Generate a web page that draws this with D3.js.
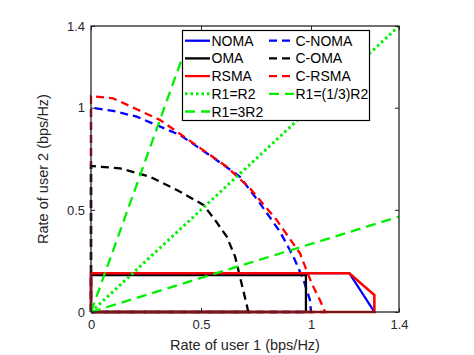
<!DOCTYPE html>
<html>
<head>
<meta charset="utf-8">
<script src="https://cdn.jsdelivr.net/npm/d3@7"></script>
<style>
  html, body { margin: 0; padding: 0; background: #fff; }
  svg { display: block; font-family: "Liberation Sans", Arial, Helvetica, sans-serif; }
</style>
</head>
<body>
<svg id="chart" width="474" height="355"></svg>
<script>
// ---------- data ----------
const xTicks = [0, 0.5, 1, 1.4];
const yTicks = [0, 0.5, 1, 1.4];
const xLabel = "Rate of user 1 (bps/Hz)";
const yLabel = "Rate of user 2 (bps/Hz)";

// achievable regions (R1, R2)
const nomaR1 = [0, 0, 1.174, 1.288, 0];
const nomaR2 = [0, 0.19, 0.19, 0, 0];
const omaR1  = [0, 0, 0.977, 0.977, 0];
const omaR2  = [0, 0.181, 0.181, 0, 0];
const rsmaR1 = [0, 0, 1.174, 1.288, 1.288, 0];
const rsmaR2 = [0, 0.19, 0.19, 0.083, 0, 0];

// capacity regions (R1, R2)
const cNomaR1 = [0, 0, 0.1, 0.208, 0.405, 0.55, 0.677, 0.768, 0.859, 0.92, 0.965, 0.995, 1.0, 0];
const cNomaR2 = [0, 1.0, 0.985, 0.956, 0.866, 0.76, 0.662, 0.532, 0.393, 0.271, 0.16, 0.06, 0, 0];
const cOmaR1  = [0, 0, 0.132, 0.268, 0.405, 0.511, 0.564, 0.617, 0.655, 0.677, 0.708, 0.715, 0];
const cOmaR2  = [0, 0.715, 0.703, 0.662, 0.589, 0.524, 0.45, 0.369, 0.271, 0.173, 0.034, 0, 0];
const cRsmaR1 = [0, 0, 0.1, 0.314, 0.5, 0.617, 0.723, 0.844, 0.95, 1.003, 1.04, 1.064, 0];
const cRsmaR2 = [0, 1.057, 1.046, 0.94, 0.8, 0.711, 0.605, 0.45, 0.287, 0.14, 0.06, 0, 0];

// reference rays R2 = k * R1
const rayNames = ["R1=R2", "R1=(1/3)R2", "R1=3R2"];
const raySlopes = [1, 3, 1 / 3];

// ---------- layout ----------
const svg = d3.select("#chart");
const M = { left: 91, top: 26, right: 399, bottom: 312 };
const x = d3.scaleLinear().domain([0, 1.4]).range([M.left, M.right]);
const y = d3.scaleLinear().domain([0, 1.4]).range([M.bottom, M.top]);

const zip = (a, b) => a.map((v, i) => [v, b[i]]);
const line = d3.line().x(d => x(d[0])).y(d => y(d[1]));

const BLUE = "#0000ff", RED = "#ff0000", BLACK = "#000000", GREEN = "#00f000";
const DASH = "8,5", GDASH = "10,6", DOT = "2.5,3";

svg.append("defs").append("clipPath").attr("id", "clip")
  .append("rect").attr("x", M.left - 3).attr("y", M.top).attr("width", M.right - M.left + 3).attr("height", M.bottom - M.top + 3);

const g = svg.append("g").attr("clip-path", "url(#clip)");

const series = [
  { name: "C-NOMA", pts: zip(cNomaR1, cNomaR2), color: BLUE, dash: DASH, w: 2.3 },
  { name: "C-RSMA", pts: zip(cRsmaR1, cRsmaR2), color: RED, dash: DASH, w: 2.3 },
  { name: "C-OMA",  pts: zip(cOmaR1, cOmaR2),  color: BLACK, dash: DASH, w: 2.3 },
  { name: "OMA",    pts: zip(omaR1, omaR2),    color: BLACK, dash: null, w: 2.3 },
  { name: "NOMA",   pts: zip(nomaR1, nomaR2),  color: BLUE, dash: null, w: 2.2 },
  { name: "RSMA",   pts: zip(rsmaR1, rsmaR2),  color: RED, dash: null, w: 2.6 }
];
series.forEach(s => {
  g.append("path").attr("d", line(s.pts)).attr("fill", "none")
    .attr("stroke", s.color).attr("stroke-width", s.w)
    .attr("stroke-dasharray", s.dash).attr("stroke-linejoin", "miter");
});

const rayStyles = [DOT, GDASH, GDASH];
raySlopes.forEach((k, i) => {
  const r1End = k <= 1 ? 1.4 : 1.4 / k;
  g.append("path").attr("d", line([[0, 0], [r1End, r1End * k]]))
    .attr("fill", "none").attr("stroke", GREEN)
    .attr("stroke-width", i === 0 ? 3 : 2.3)
    .attr("stroke-dasharray", rayStyles[i]);
});

// ---------- axes ----------
const axColor = "#262626";
const fmt = d => d3.format("")(d);
function styleAxis(sel, hideText) {
  sel.select(".domain").remove();
  sel.selectAll("line").attr("stroke", axColor);
  sel.selectAll("text").attr("fill", axColor).style("font-size", "13px");
  if (hideText) sel.selectAll("text").remove();
}
svg.append("g").attr("transform", `translate(0,${M.bottom})`)
  .call(d3.axisBottom(x).tickValues(xTicks).tickFormat(fmt).tickSizeInner(-4).tickSizeOuter(0).tickPadding(8))
  .call(s => styleAxis(s, false)).attr("font-family", null);
svg.append("g").attr("transform", `translate(0,${M.top})`)
  .call(d3.axisTop(x).tickValues(xTicks).tickSizeInner(-4).tickSizeOuter(0))
  .call(s => styleAxis(s, true));
svg.append("g").attr("transform", `translate(${M.left},0)`)
  .call(d3.axisLeft(y).tickValues(yTicks).tickFormat(fmt).tickSizeInner(-4).tickSizeOuter(0).tickPadding(6))
  .call(s => styleAxis(s, false)).attr("font-family", null);
svg.append("g").attr("transform", `translate(${M.right},0)`)
  .call(d3.axisRight(y).tickValues(yTicks).tickSizeInner(-4).tickSizeOuter(0))
  .call(s => styleAxis(s, true));

svg.append("rect").attr("x", M.left).attr("y", M.top)
  .attr("width", M.right - M.left).attr("height", M.bottom - M.top)
  .attr("fill", "none").attr("stroke", axColor).attr("stroke-width", 1.3);

svg.append("text").attr("x", (M.left + M.right) / 2).attr("y", 350)
  .attr("text-anchor", "middle").attr("fill", axColor).style("font-size", "14.5px").text(xLabel);
svg.append("text").attr("transform", `translate(48,${(M.top + M.bottom) / 2}) rotate(-90)`)
  .attr("text-anchor", "middle").attr("fill", axColor).style("font-size", "14.5px").text(yLabel);

// ---------- legend ----------
const legendItems = [
  { name: "NOMA", color: BLUE, dash: null },
  { name: "C-NOMA", color: BLUE, dash: DASH },
  { name: "OMA", color: BLACK, dash: null },
  { name: "C-OMA", color: BLACK, dash: DASH },
  { name: "RSMA", color: RED, dash: null },
  { name: "C-RSMA", color: RED, dash: DASH },
  { name: rayNames[0], color: GREEN, dash: DOT, w: 3 },
  { name: rayNames[1], color: GREEN, dash: GDASH },
  { name: rayNames[2], color: GREEN, dash: GDASH }
];
const lg = svg.append("g");
lg.append("rect").attr("x", 182.5).attr("y", 30.5).attr("width", 187).attr("height", 90)
  .attr("fill", "#fff").attr("stroke", BLACK).attr("stroke-width", 1.2);
const colX = [185, 269];
legendItems.forEach((it, i) => {
  const col = i % 2, row = Math.floor(i / 2);
  const cy = 40.7 + row * 17.7;
  const x0 = colX[col];
  lg.append("line").attr("x1", x0).attr("x2", x0 + 25).attr("y1", cy).attr("y2", cy)
    .attr("stroke", it.color).attr("stroke-width", it.w || 2.3).attr("stroke-dasharray", it.dash);
  lg.append("text").attr("x", x0 + 26.5).attr("y", cy).attr("dy", "0.36em")
    .attr("fill", BLACK).style("font-size", "14px").text(it.name);
});
</script>
</body>
</html>
